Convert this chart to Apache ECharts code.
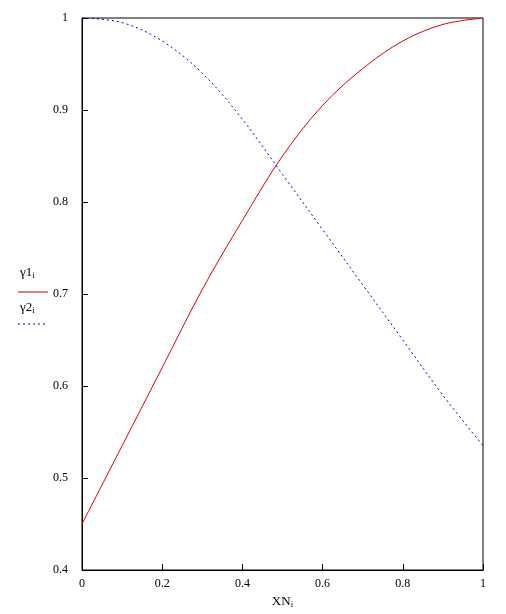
<!DOCTYPE html><html><head><meta charset="utf-8"><script src="https://cdn.jsdelivr.net/npm/echarts@6/dist/echarts.min.js"></script></head><body style="margin:0;background:#fff"><div id="c" style="width:506px;height:614px"></div><script>
var xs=[0,0.1,0.2,0.3,0.4,0.5,0.6,0.7,0.8,0.9,1.0];
var gamma1=[0.45,0.535,0.62,0.705,0.78,0.85,0.905,0.945,0.975,0.993,1.0];
var gamma2=[1.0,0.995,0.975,0.94,0.89,0.83,0.77,0.71,0.65,0.59,0.535];
var xTicks=[0,0.2,0.4,0.6,0.8,1];
var yTicks=[0.4,0.5,0.6,0.7,0.8,0.9,1];
var ch=echarts.init(document.getElementById('c'));
var f='"Liberation Serif",serif';
function pairs(y){return xs.map(function(x,i){return [x,y[i]];});}
function fmt(v){return v===0?'0':v===1?'1':String(+v.toFixed(1));}
var ax={show:true,lineStyle:{color:'#000',width:1}};
ch.setOption({animation:false,
grid:{left:82,right:23,top:18,bottom:44,show:true,borderColor:'#000',borderWidth:1},
xAxis:{type:'value',min:0,max:1,interval:0.2,axisLine:ax,axisTick:{inside:true,length:6,lineStyle:{color:'#000'}},splitLine:{show:false},
 axisLabel:{color:'#000',fontFamily:f,fontSize:12,formatter:fmt},
 name:'{a|XN}{s|i}',nameLocation:'middle',nameGap:22,nameTextStyle:{rich:{a:{fontFamily:f,fontSize:13,color:'#000'},s:{fontFamily:f,fontSize:9,color:'#000',verticalAlign:'bottom',padding:[6,0,0,0]}}}},
yAxis:{type:'value',min:0.4,max:1,interval:0.1,axisLine:ax,axisTick:{inside:true,length:6,lineStyle:{color:'#000'}},splitLine:{show:false},
 axisLabel:{color:'#000',fontFamily:f,fontSize:12,margin:14,formatter:fmt}},
graphic:[
 {type:'text',left:20,top:266,style:{rich:{a:{fontFamily:f,fontSize:13,fill:'#000'},s:{fontFamily:f,fontSize:9,fill:'#000',padding:[6,0,0,0]}},text:'{a|γ1}{s|i}'}},
 {type:'line',shape:{x1:18,y1:292,x2:48,y2:292},style:{stroke:'#cc0000',lineWidth:1}},
 {type:'text',left:20,top:301,style:{rich:{a:{fontFamily:f,fontSize:13,fill:'#000'},s:{fontFamily:f,fontSize:9,fill:'#000',padding:[6,0,0,0]}},text:'{a|γ2}{s|i}'}},
 {type:'line',shape:{x1:18,y1:324,x2:48,y2:324},style:{stroke:'#0000cc',lineWidth:1,lineDash:[2,3]}}
],
series:[
 {type:'line',data:pairs(gamma1),smooth:0.35,showSymbol:false,lineStyle:{color:'#e00000',width:1}},
 {type:'line',data:pairs(gamma2),smooth:0.35,showSymbol:false,lineStyle:{color:'#0000dd',width:1,type:[2,3]}}
]});
</script></body></html>
